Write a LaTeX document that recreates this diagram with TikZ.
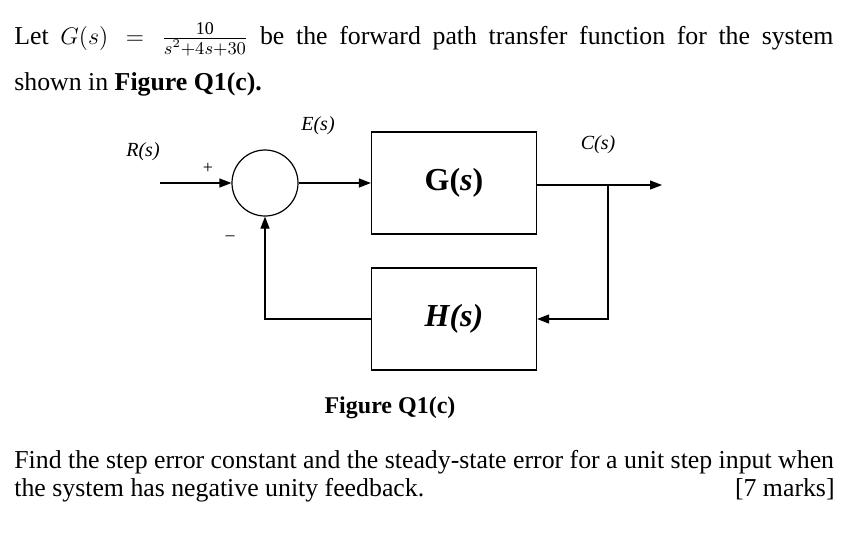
\documentclass[tikz,border=0pt]{standalone}
\usepackage{amsmath}
\usepackage{fontspec}
\setmainfont{Liberation Serif}
\usetikzlibrary{positioning,calc,arrows.meta}
\begin{document}
\begin{tikzpicture}[x=0.5pt,y=-0.5pt,
  block/.style={draw,line width=0.6pt,minimum width=82.5pt,minimum height=51pt},
  sumnode/.style={draw,line width=0.6pt,circle,minimum size=33pt,inner sep=0pt},
  sig/.style={line width=0.6pt,-{Triangle[length=6pt,width=4.5pt]}},
  wire/.style={line width=0.6pt},
  lbl/.style={font=\fontsize{10}{12}\selectfont\itshape},
  body/.style={font=\fontsize{12.9}{15}\selectfont,inner sep=0pt,anchor=base west}]
\useasboundingbox (0,0) rectangle (865,532);

% text above
\node[body] (l1) at (14,44) {\makebox[409.5pt][s]{Let $G(s)=\frac{\text{\small 10}}{\text{\small$s^2{+}4s{+}30$}}$ be the forward path transfer function for the system}};
\node[body] (l2) at (14,90) {shown in \textbf{Figure Q1(c).}};

% blocks
\node[sumnode] (sum) at (265,183) {};
\node[block] (G) at (454,183) {\fontsize{16}{18}\selectfont\bfseries G(\textit{s})};
\node[block] (H) at (454,319) {\fontsize{16}{18}\selectfont\bfseries\itshape H(s)};
\coordinate (in) at (160,183);
\coordinate (out) at (662,185);
\coordinate (tap) at (608,185);

% connectors
\draw[sig] (in) -- (sum.west);
\draw[sig] (sum.east) -- (G.west);
\draw[sig] (G.east |- out) -- (out);
\draw[sig] (tap) |- (H.east);
\draw[sig] (H.west) -| (sum.south);

% labels
\node[lbl] (r) at (143,152) {R(s)};
\node[lbl] (e) at (318,126) {E(s)};
\node[lbl] (c) at (598,145) {C(\textit{s})};
\node[font=\fontsize{9}{10}\selectfont] (plus) at (208,168) {+};
\node[font=\fontsize{9}{10}\selectfont] (minus) at (230,238) {--};
\node[font=\fontsize{12}{14}\selectfont\bfseries] (cap) at (390,408) {Figure Q1(c)};

% text below
\node[body] (l3) at (14,468) {Find the step error constant and the steady-state error for a unit step input when};
\node[body] (l4) at (14,496) {the system has negative unity feedback.};
\node[body,anchor=base east] (mk) at (835,496) {[7 marks]};
\end{tikzpicture}
\end{document}
